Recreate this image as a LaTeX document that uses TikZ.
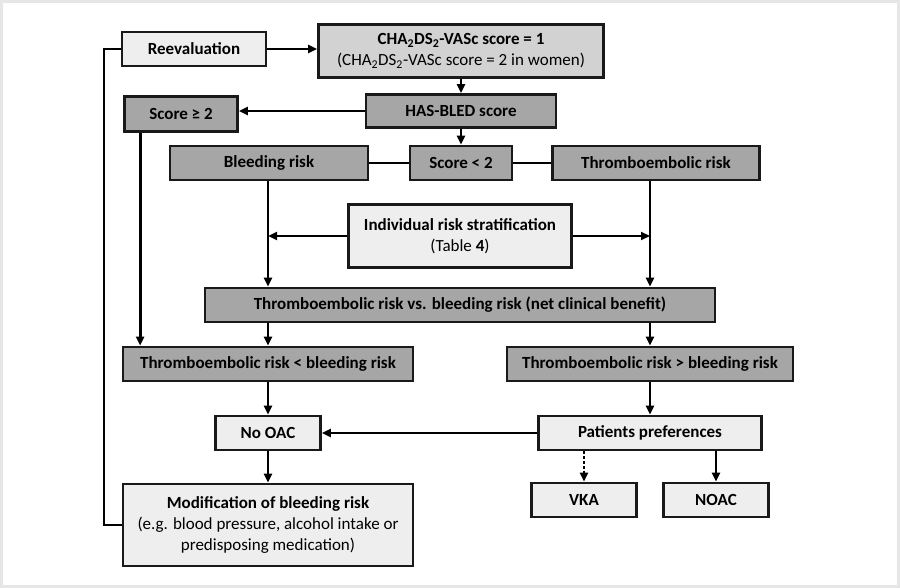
\documentclass[tikz,border=0pt]{standalone}
\usepackage{fontspec}
\setmainfont{Carlito}
\usetikzlibrary{arrows.meta,positioning,calc}
\definecolor{boxdark}{RGB}{166,166,166}
\definecolor{boxmid}{RGB}{210,210,210}
\definecolor{boxlight}{RGB}{238,238,238}
\definecolor{frame}{RGB}{230,230,230}

\begin{document}
\begin{tikzpicture}[
    x=1pt, y=-1pt,
    font=\fontsize{17}{21}\selectfont,
    box/.style={draw=black!90, line width=2.8pt, inner sep=2pt, align=center, minimum height=34pt},
    darkbox/.style={box, fill=boxdark, font=\fontsize{17}{21}\selectfont\bfseries},
    midbox/.style={box, fill=boxmid},
    lightbox/.style={box, fill=boxlight},
    boldlight/.style={lightbox, font=\fontsize{17}{21}\selectfont\bfseries},
    arr/.style={-{Triangle[length=9pt,width=8pt]}, line width=2.8pt},
    link/.style={line width=2.8pt},
    dotarr/.style={arr, dotted}
]

% page frame
\fill[frame] (0,0) rectangle (900,588);
\fill[white] (3,3) rectangle (897,585);

% top row
\node[boldlight, minimum width=144pt] (reeval) at (194, 49) {Reevaluation};
\node[midbox, minimum width=285pt, minimum height=53pt] (cha) at (461, 51)
    {\textbf{CHA\textsubscript{2}DS\textsubscript{2}-VASc score = 1}\\(CHA\textsubscript{2}DS\textsubscript{2}-VASc score = 2 in women)};

% HAS-BLED
\node[darkbox, minimum width=190pt, minimum height=33pt] (hasbled) at (461, 111) {HAS-BLED score};
\node[darkbox, minimum width=113pt, minimum height=35pt] (high) at (181, 114) {Score ≥ 2};

% risks
\node[darkbox, minimum width=198pt] (bleed) at (269, 163) {Bleeding risk};
\node[darkbox, minimum width=102pt] (low) at (461, 163) {Score < 2};
\node[darkbox, minimum width=207pt] (thrombo) at (656, 163) {Thromboembolic risk};
\node[lightbox, minimum width=223pt, minimum height=63pt] (strat) at (460, 236)
    {\textbf{Individual risk stratification}\\(Table \textbf{4})};

% net clinical benefit
\node[darkbox, minimum width=510pt] (net) at (460, 305) {Thromboembolic risk vs. bleeding risk (net clinical benefit)};
\node[darkbox, minimum width=290pt] (tlow) at (268, 364) {Thromboembolic risk < bleeding risk};
\node[darkbox, minimum width=286pt] (thigh) at (650, 364) {Thromboembolic risk > bleeding risk};

% decisions
\node[boldlight, minimum width=105pt] (nooac) at (268, 433) {No OAC};
\node[boldlight, minimum width=223pt] (pref) at (650, 433) {Patients preferences};
\node[boldlight, minimum width=105pt] (vka) at (584, 500) {VKA};
\node[boldlight, minimum width=105pt] (noac) at (716, 500) {NOAC};
\node[lightbox, minimum width=290pt, minimum height=82pt] (modif) at (268, 525)
    {\textbf{Modification of bleeding risk}\\(e.g. blood pressure, alcohol intake or\\predisposing medication)};

% connectors, top part
\draw[arr] (reeval.east) -- (reeval.east -| cha.west);
\draw[arr] (cha.south) -- (hasbled.north);
\draw[arr] (hasbled.west) -- (hasbled.west -| high.east);
\draw[arr] (hasbled.south) -- (low.north);
\draw[link] (low.west) -- (bleed.east);
\draw[link] (low.east) -- (thrombo.west);

% risk columns
\draw[arr] (bleed.south -| tlow.north) -- (tlow.north |- net.north);
\draw[arr] (thrombo.south -| thigh.north) -- (thigh.north |- net.north);
\draw[arr] (strat.west) -- (strat.west -| tlow.north);
\draw[arr] (strat.east) -- (strat.east -| thigh.north);
\draw[arr] (net.south -| tlow.north) -- (tlow.north);
\draw[arr] (net.south -| thigh.north) -- (thigh.north);
\draw[arr] ([xshift=17pt]high.south west) -- ([xshift=17pt]high.south west |- tlow.north);

% decisions
\draw[arr] (tlow.south) -- (nooac.north);
\draw[arr] (thigh.south) -- (pref.north);
\draw[arr] (pref.west) -- (nooac.east);
\draw[dotarr] (pref.south -| vka.north) -- (vka.north);
\draw[arr] (pref.south -| noac.north) -- (noac.north);
\draw[arr] (nooac.south) -- (modif.north);

% back to reevaluation
\draw[link] (modif.west) -| (104, 49) -- (reeval.west);

\end{tikzpicture}
\end{document}
